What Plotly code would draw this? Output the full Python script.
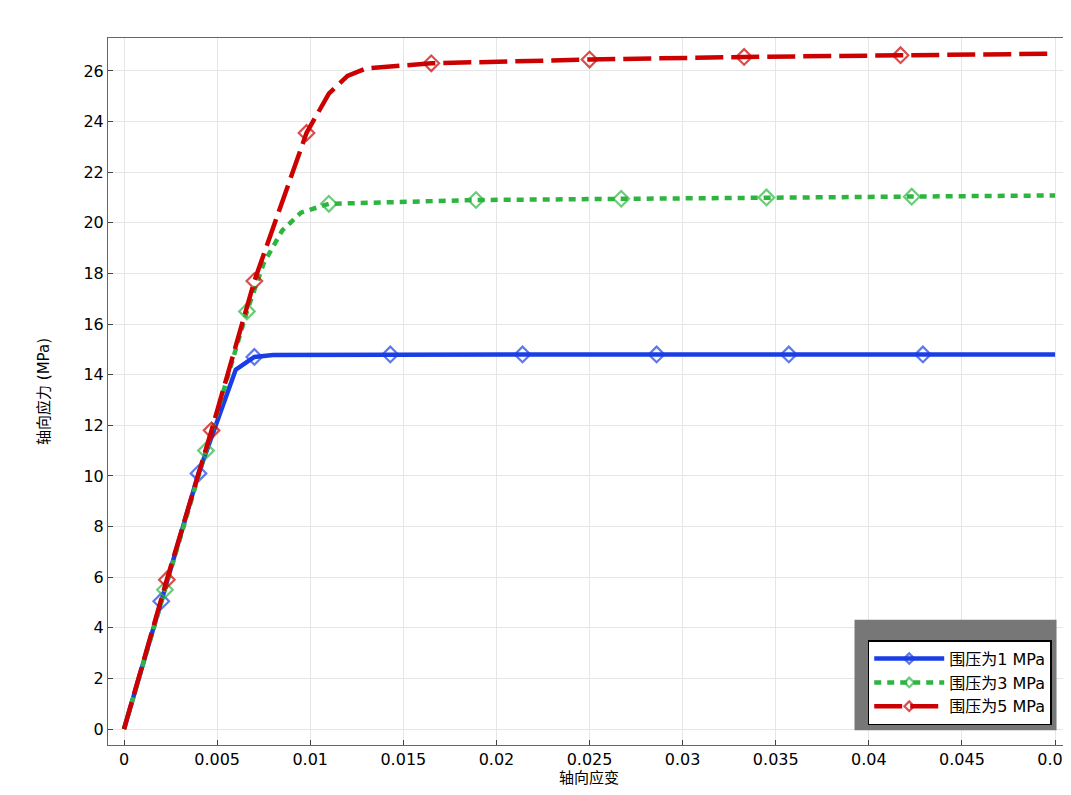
import plotly.graph_objects as go

names = ["围压为1 MPa", "围压为3 MPa", "围压为5 MPa"]
colors = ["#1a3ee6", "#2db53f", "#cc0000"]
dashes = ["solid", "7px,6px", "28px,8px"]

strain1 = [0, 0.002, 0.004, 0.006, 0.007, 0.008, 0.0143, 0.0214, 0.0286, 0.0357, 0.0429, 0.05]
stress1 = [0, 5.05, 10.1, 14.2, 14.7, 14.78, 14.8, 14.8, 14.8, 14.8, 14.8, 14.8]
mark1 = [0, 1, 1, 0, 1, 0, 1, 1, 1, 1, 1, 0]

strain2 = [0, 0.0022, 0.0044, 0.0066, 0.0075, 0.0085, 0.0095, 0.011, 0.0189, 0.0267, 0.0345, 0.0423, 0.05]
stress2 = [0, 5.5, 11.0, 16.5, 18.4, 19.7, 20.4, 20.75, 20.9, 20.95, 21.0, 21.03, 21.08]
mark2 = [0, 1, 1, 1, 0, 0, 0, 1, 1, 1, 1, 1, 0]

strain3 = [0, 0.0023, 0.0047, 0.007, 0.0098, 0.011, 0.012, 0.013, 0.0165, 0.025, 0.0333, 0.0417, 0.05]
stress3 = [0, 5.9, 11.8, 17.7, 23.55, 25.1, 25.8, 26.1, 26.3, 26.45, 26.55, 26.62, 26.68]
mark3 = [0, 1, 1, 1, 1, 0, 0, 0, 1, 1, 1, 1, 0]

fig = go.Figure()
for name, c, d, xs, ys, ms in zip(names, colors, dashes,
                                   [strain1, strain2, strain3],
                                   [stress1, stress2, stress3],
                                   [mark1, mark2, mark3]):
    fig.add_trace(go.Scatter(
        x=xs, y=ys, name=name, mode="lines+markers",
        line=dict(color=c, width=4.5, dash=d),
        marker=dict(symbol="diamond-open", size=[12 * m for m in ms],
                    color=c, line=dict(width=2.2, color=c)),
    ))

font = "DejaVu Sans, Noto Sans CJK SC"
fig.update_layout(
    width=1071, height=795,
    margin=dict(l=100, r=9, t=30, b=58, autoexpand=False),
    plot_bgcolor="white", paper_bgcolor="white",
    font=dict(family=font, size=16, color="black"),
    showlegend=True,
    legend=dict(x=0.981, y=0.028, xanchor="right", yanchor="bottom",
                bordercolor="black", borderwidth=1.5, bgcolor="white",
                font=dict(size=16), itemwidth=70, tracegroupgap=10),
    shapes=[dict(type="rect", xref="paper", yref="paper",
                 x0=0.776, x1=0.986, y0=0.021, y1=0.177,
                 fillcolor="#777", line=dict(width=0), layer="above")],
)
fig.update_xaxes(range=[-0.00086, 0.0508], tickvals=[0, 0.005, 0.01, 0.015, 0.02, 0.025, 0.03, 0.035, 0.04, 0.045, 0.05],
                 ticktext=["0", "0.005", "0.01", "0.015", "0.02", "0.025", "0.03", "0.035", "0.04", "0.045", "0.05"],
                 showgrid=True, gridcolor="#e6e6e6", zeroline=False, automargin=False,
                 showline=True, linecolor="#666", mirror=True, ticks="inside",
                 title=dict(text="轴向应变", standoff=2, font=dict(size=15)))
fig.update_yaxes(range=[-0.63, 27.3], dtick=2, showgrid=True, gridcolor="#e6e6e6", zeroline=False, automargin=False,
                 showline=True, linecolor="#666", mirror=True, ticks="inside",
                 title=dict(text="轴向应力 (MPa)", standoff=30, font=dict(size=15)))
fig.write_html("out.html")
